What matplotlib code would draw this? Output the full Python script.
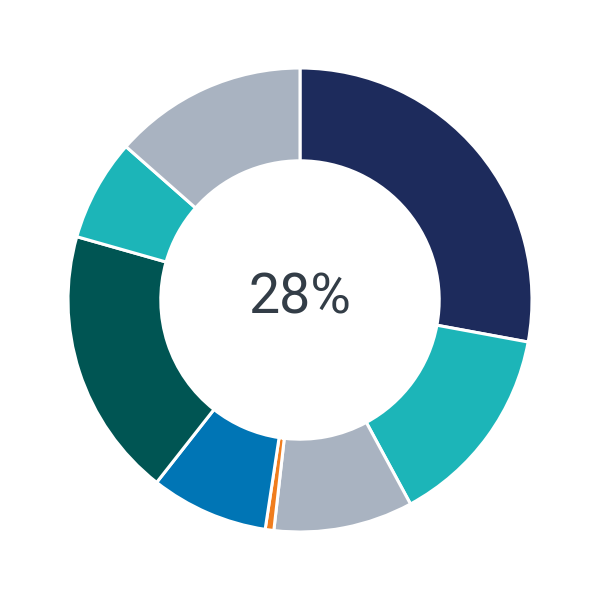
import matplotlib
matplotlib.use('Agg')
import matplotlib.pyplot as plt

# 各部分占比（从12点方向顺时针）
labels = ['A', 'B', 'C', 'D', 'E', 'F', 'G', 'H']
values = [27.9, 14.2, 9.7, 0.6, 8.2, 18.8, 7.1, 13.5]
colors = ['#1d2b5c', '#1cb5b8', '#a9b3c1', '#f07d1e',
          '#0075b5', '#005553', '#1cb5b8', '#a9b3c1']
center_text = '28%'

fig = plt.figure(figsize=(6, 6), dpi=100)
ax = fig.add_axes([0, 0, 1, 1])
ax.pie(values, colors=colors, startangle=90, counterclock=False,
       radius=1, wedgeprops=dict(width=0.4, edgecolor='white', linewidth=2.2))
lim = 300 / 232
ax.set_xlim(-lim, lim)
ax.set_ylim(-lim, lim)
ax.set_aspect('equal')
ax.axis('off')
ax.text(0, 0.01, center_text, ha='center', va='center', fontsize=40,
        color='#333d47', family=['Roboto', 'DejaVu Sans'])
fig.savefig('out.png', dpi=100, facecolor='white')
